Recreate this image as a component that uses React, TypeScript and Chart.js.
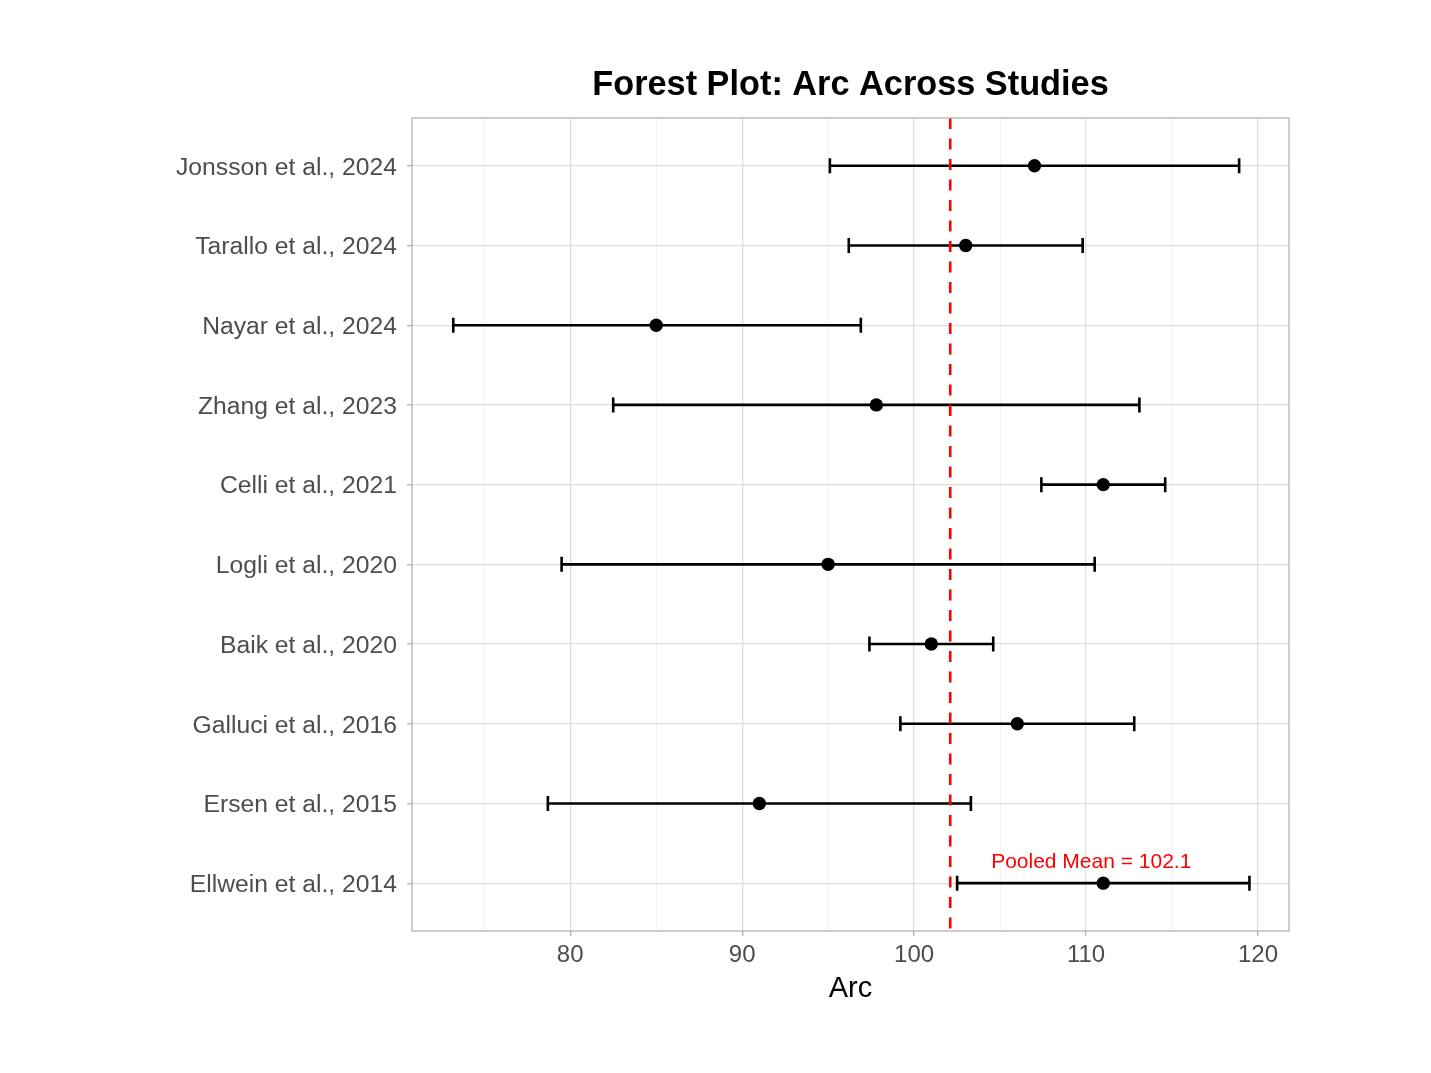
import React, { useEffect, useRef } from "react";
import { Chart, registerables } from "chart.js";

Chart.register(...registerables);

const studies = [
  "Jonsson et al., 2024",
  "Tarallo et al., 2024",
  "Nayar et al., 2024",
  "Zhang et al., 2023",
  "Celli et al., 2021",
  "Logli et al., 2020",
  "Baik et al., 2020",
  "Galluci et al., 2016",
  "Ersen et al., 2015",
  "Ellwein et al., 2014",
];
const means = [107.0, 103.0, 85.0, 97.8, 111.0, 95.0, 101.0, 106.0, 91.0, 111.0];
const lowers = [95.1, 96.2, 73.2, 82.5, 107.4, 79.5, 97.4, 99.2, 78.7, 102.5];
const uppers = [118.9, 109.8, 96.9, 113.1, 114.6, 110.5, 104.6, 112.8, 103.3, 119.5];
const pooledMean = 102.1;
const xMajorTicks = [80, 90, 100, 110, 120];
const xMinorTicks = [75, 85, 95, 105, 115];

const FONT = "'Liberation Sans', Arial, Helvetica, sans-serif";

export default function App() {
  const ref = useRef<HTMLCanvasElement | null>(null);

  useEffect(() => {
    const canvas = ref.current;
    if (!canvas) return;
    const n = studies.length;

    const extras = {
      id: "forestExtras",
      beforeDatasetsDraw(chart: any) {
        const { ctx, scales } = chart;
        const xs = scales.x;
        const ys = scales.y;
        ctx.save();
        ctx.strokeStyle = "#000000";
        ctx.lineWidth = 2.6;
        ctx.lineCap = "butt";
        for (let i = 0; i < n; i++) {
          const y = ys.getPixelForValue(n - i);
          const x1 = xs.getPixelForValue(lowers[i]);
          const x2 = xs.getPixelForValue(uppers[i]);
          ctx.beginPath();
          ctx.moveTo(x1, y);
          ctx.lineTo(x2, y);
          ctx.moveTo(x1, y - 7.5);
          ctx.lineTo(x1, y + 7.5);
          ctx.moveTo(x2, y - 7.5);
          ctx.lineTo(x2, y + 7.5);
          ctx.stroke();
        }
        ctx.restore();
      },
      afterDatasetsDraw(chart: any) {
        const { ctx, scales, chartArea } = chart;
        const xs = scales.x;
        const ys = scales.y;
        ctx.save();
        // pooled mean line
        const px = xs.getPixelForValue(pooledMean);
        ctx.strokeStyle = "#ff0000";
        ctx.lineWidth = 2.6;
        ctx.setLineDash([11, 9.5]);
        ctx.beginPath();
        ctx.moveTo(px, chartArea.top);
        ctx.lineTo(px, chartArea.bottom);
        ctx.stroke();
        ctx.setLineDash([]);
        // annotation
        ctx.fillStyle = "#ff0000";
        ctx.font = `21px ${FONT}`;
        ctx.textAlign = "center";
        ctx.textBaseline = "middle";
        ctx.fillText(
          `Pooled Mean = ${pooledMean.toFixed(1)}`,
          xs.getPixelForValue(pooledMean + 8.2),
          ys.getPixelForValue(1.26)
        );
        // panel border
        ctx.strokeStyle = "#b3b3b3";
        ctx.lineWidth = 1.3;
        ctx.strokeRect(
          chartArea.left,
          chartArea.top,
          chartArea.right - chartArea.left,
          chartArea.bottom - chartArea.top
        );
        ctx.restore();
      },
    };

    const chart = new Chart(canvas, {
      type: "scatter",
      data: {
        datasets: [
          {
            label: "Arc",
            data: means.map((m, i) => ({ x: m, y: n - i })),
            pointRadius: 6.7,
            pointHoverRadius: 6.7,
            backgroundColor: "#000000",
            borderWidth: 0,
          },
        ],
      },
      options: {
        responsive: false,
        animation: false,
        devicePixelRatio: 1,
        layout: { padding: { top: 65.4, right: 142, bottom: 67, left: 0 } },
        plugins: {
          legend: { display: false },
          tooltip: { enabled: false },
          title: {
            display: true,
            text: "Forest Plot: Arc Across Studies",
            fullSize: false,
            color: "#000000",
            font: { family: FONT, size: 34.3, weight: "bold" },
            padding: { top: 0, bottom: 11.4 },
          },
        },
        scales: {
          x: {
            type: "linear",
            min: 70.8,
            max: 121.8,
            afterBuildTicks: (scale: any) => {
              scale.ticks = [...xMinorTicks, ...xMajorTicks]
                .sort((a, b) => a - b)
                .map((v) => ({ value: v }));
            },
            afterFit: (scale: any) => {
              scale.height = 75;
            },
            ticks: {
              autoSkip: false,
              maxRotation: 0,
              color: "#4d4d4d",
              font: { family: FONT, size: 24 },
              padding: 5,
              callback: (v: any) => (xMajorTicks.includes(Number(v)) ? String(v) : ""),
            },
            grid: {
              color: (c: any) => (xMajorTicks.includes(c.tick?.value) ? "#dedede" : "#ededed"),
              lineWidth: (c: any) => (xMajorTicks.includes(c.tick?.value) ? 1.3 : 0.8),
              tickColor: (c: any) =>
                xMajorTicks.includes(c.tick?.value) ? "#b3b3b3" : "rgba(0,0,0,0)",
              tickLength: 5,
              drawTicks: true,
            },
            border: { display: false },
            title: {
              display: true,
              text: "Arc",
              color: "#000000",
              font: { family: FONT, size: 29 },
              padding: { top: 0, bottom: 0 },
            },
          },
          y: {
            type: "linear",
            min: 0.4,
            max: 10.6,
            afterBuildTicks: (scale: any) => {
              scale.ticks = studies.map((_, i) => ({ value: n - i }));
            },
            afterFit: (scale: any) => {
              scale.width = 412;
            },
            ticks: {
              autoSkip: false,
              color: "#4d4d4d",
              font: { family: FONT, size: 24.7 },
              padding: 10,
              labelOffset: 2,
              callback: (v: any) => studies[n - Number(v)] ?? "",
            },
            grid: {
              color: "#dedede",
              lineWidth: 1.3,
              tickColor: "#b3b3b3",
              tickLength: 5,
              drawTicks: true,
            },
            border: { display: false },
          },
        },
      },
      plugins: [extras],
    } as any);

    return () => chart.destroy();
  }, []);

  return (
    <div style={{ position: "absolute", left: 0, top: 0, width: 1431, height: 1073, background: "#ffffff" }}>
      <canvas ref={ref} width={1431} height={1073} />
    </div>
  );
}
